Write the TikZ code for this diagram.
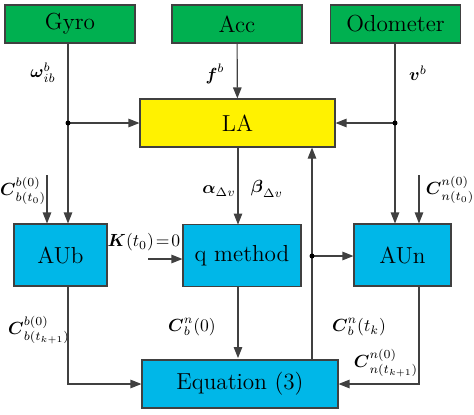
\documentclass[tikz,border=0pt]{standalone}
\usepackage{amsmath}
\usepackage{amssymb}
\usepackage{tikz}
\usetikzlibrary{arrows.meta}

\definecolor{boxgreen}{RGB}{0,176,80}
\definecolor{boxcyan}{RGB}{0,183,232}

\begin{document}
\begin{tikzpicture}[
		x=0.02cm, y=-0.02cm,
		>={Triangle[length=2.2mm, width=1.7mm]},
		line width=0.65pt, draw=black!75,
		every node/.style={inner sep=1pt},
		blk/.style={rectangle, draw=black!75, font=\fontsize{13.2}{16}\selectfont, inner sep=0pt},
		src/.style={blk, fill=boxgreen, minimum width=2.6cm, minimum height=0.76cm},
		est/.style={blk, fill=boxcyan, minimum height=1.24cm}
	]
  \useasboundingbox (0, 0) rectangle (474, 414);
  \node (gyro) [src] at (70, 24) {Gyro};
  \node (acc) [src] at (237, 24) {Acc};
  \node (odo) [src] at (395.5, 24) {Odometer};
  \node (la) [blk, fill=yellow, minimum width=3.9cm, minimum height=0.96cm] at (237.5, 123) {LA};
  \node (aub) [est, minimum width=1.86cm] at (60.5, 255) {AUb};
  \node (qm) [est, minimum width=2.36cm] at (242, 255.5) {q method};
  \node (aun) [est, minimum width=1.94cm] at (402.5, 255) {AUn};
  \node (eq) [est, minimum width=3.92cm, minimum height=0.96cm] at (240, 384) {Equation (3)};
  \coordinate (jg) at (68, 123);
  \coordinate (jo) at (395, 123);
  \coordinate (jf) at (312, 256);
  \coordinate (cb0) at (47, 175);
  \coordinate (cn0) at (419, 175);
  \coordinate (k0) at (148, 259);
  \node (w_ib) at (43, 73) {$\boldsymbol{\omega}_{ib}^{b}$};
  \node (f_b) at (215, 74) {$\boldsymbol{f}^{b}$};
  \node (v_b) at (418, 73) {$\boldsymbol{v}^{b}$};
  \node (C_b0) at (23, 191) {$\boldsymbol{C}_{b(t_0)}^{b(0)}$};
  \node (C_n0) at (450, 190) {$\boldsymbol{C}_{n(t_0)}^{n(0)}$};
  \node (alpha) at (219, 191) {$\boldsymbol{\alpha}_{\Delta v}$};
  \node (beta) at (267, 189) {$\boldsymbol{\beta}_{\Delta v}$};
  \node (K_0) at (144, 242) {$\boldsymbol{K}(t_0)\!=\!0$};
  \node (C_bk) at (39, 330) {$\boldsymbol{C}_{b(t_{k+1})}^{b(0)}$};
  \node (C_q) at (192, 327) {$\boldsymbol{C}_{b}^{n}(0)$};
  \node (C_tk) at (359, 327) {$\boldsymbol{C}_{b}^{n}(t_k)$};
  \node (C_nk) at (386, 363) {$\boldsymbol{C}_{n(t_{k+1})}^{n(0)}$};
  \draw (gyro.south -| jg) -- (jg);
  \draw [->] (jg) -- (aub.north -| jg);
  \draw [->] (jg) -- (la.west);
  \draw [->] (acc) -- (la);
  \draw (odo.south -| jo) -- (jo);
  \draw [->] (jo) -- (aun.north -| jo);
  \draw [->] (jo) -- (la.east);
  \draw [->] (cb0) -- (aub.north -| cb0);
  \draw [->] (cn0) -- (aun.north -| cn0);
  \draw [->] (la.south -| qm.north) ++(-4, 0) -- ++(0, 77);
  \draw [->] (k0) -- (k0 -| qm.west);
  \draw [->] (eq.north -| jf) -- (la.south -| jf);
  \draw [->] (jf) -- (jf -| aun.west);
  \draw [->] (aub.south -| jg) |- (eq.west);
  \draw [->] (aun.south -| cn0) |- (eq.east);
  \draw [->] (qm.south -| eq.north) ++(-2, 0) -- ++(0, 71);
  \fill (jg) circle (2.5);
  \fill (jo) circle (2.5);
  \fill (jf) circle (2.5);
\end{tikzpicture}
\end{document}
